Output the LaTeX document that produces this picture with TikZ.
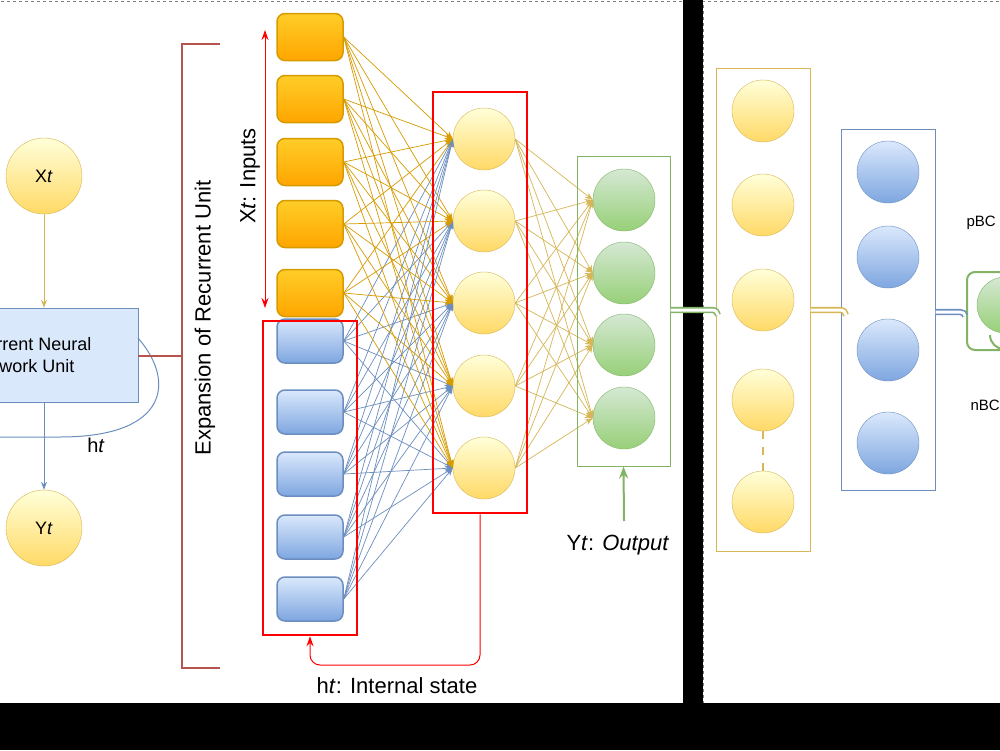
\documentclass[tikz,border=0pt]{standalone}
\usepackage{fontspec}
\setmainfont{Liberation Sans}
\usetikzlibrary{arrows.meta}
\definecolor{yd}{HTML}{D6B656}
\definecolor{od}{HTML}{D79B00}
\definecolor{bd}{HTML}{6C8EBF}
\definecolor{gd}{HTML}{82B366}
\definecolor{rb}{HTML}{B85450}
\begin{document}
\begin{tikzpicture}[x=1pt,y=-1pt,
 ycirc/.style={circle,minimum size=62pt,draw=yd,top color=yellow!15!white,bottom color={rgb,255:red,255;green,217;blue,102}},
 bcirc/.style={circle,minimum size=62pt,draw=bd,top color={rgb,255:red,218;green,232;blue,252},bottom color={rgb,255:red,126;green,166;blue,224}},
 gcirc/.style={circle,minimum size=62pt,draw=gd,top color={rgb,255:red,213;green,232;blue,212},bottom color={rgb,255:red,151;green,208;blue,119}},
 orect/.style={rounded corners=8pt,minimum width=66pt,minimum height=47pt,draw=od,line width=1.5pt,top color={rgb,255:red,255;green,205;blue,40},bottom color={rgb,255:red,255;green,165;blue,0}},
 brect/.style={rounded corners=8pt,minimum width=66pt,minimum height=44pt,draw=bd,line width=1.5pt,top color={rgb,255:red,218;green,232;blue,252},bottom color={rgb,255:red,126;green,166;blue,224}},
 conn/.style={-{Stealth[length=8pt,width=6pt]},line width=0.7pt},
 redbox/.style={draw=red,line width=2.5pt},
 dbl/.style={double=white,double distance=3pt,line width=1.6pt}]
\useasboundingbox (0,0) rectangle (1000,750);
\fill[black] (0,0) rectangle (1000,750);
\fill[white] (0,0) rectangle (683,703);
\fill[white] (703,0) rectangle (1000,703);
\draw[gray,dashed] (-5,1) -- (683,1) -- (683,703) -- (-5,703);
\draw[gray,dashed] (1005,1) -- (703,1) -- (703,703) -- (1005,703);
\begin{scope}
\clip (0,0) rectangle (683,703);
% left part
\node[ycirc,minimum size=76pt,font=\fontsize{18}{22}\selectfont] (xt) at (44,176) {X\textit{t}};
\node[draw=bd,fill={rgb,255:red,218;green,232;blue,252},minimum width=230pt,minimum height=94pt,align=center,font=\fontsize{18}{22}\selectfont] (rnn) at (23,355) {Recurrent Neural\\Network Unit};
\node[ycirc,minimum size=76pt,font=\fontsize{18}{22}\selectfont] (yt) at (44,528) {Y\textit{t}};
\draw[yd,conn,line width=1pt] (xt) -- (rnn.north -| xt);
\draw[bd,conn,line width=1pt] (rnn.south -| xt) -- (yt);
\coordinate (lp) at (-10,437);
\draw[bd,line width=1pt] (138,338) .. controls (175,380) and (170,437) .. (60,437) -- (lp);
\node[font=\fontsize{20}{24}\selectfont] (htl) at (96,445) {h\textit{t}};
% bracket
\coordinate (b0) at (182,44);\coordinate (b1) at (182,668);
\draw[rb,line width=2pt] (220,44) -- (b0) -- (b1) -- (220,668);
\draw[rb,line width=2pt] (rnn.east |- 0,356) -- (182,356);
\node[rotate=90,font=\fontsize{22}{26}\selectfont] (exp) at (205,318) {Expansion of Recurrent Unit};
\node[rotate=90,font=\fontsize{22}{26}\selectfont] (inp) at (250,176) {X\textit{t}: Inputs};
\coordinate (ia) at (265,30);\coordinate (ib) at (265,308);
\draw[red,line width=1pt,{Stealth[length=10pt,width=7pt]}-{Stealth[length=10pt,width=7pt]}] (ia) -- (ib);
% layers
\foreach \i/\y in {1/37,2/99,3/162,4/224,5/293} \node[orect] (o\i) at (310,\y) {};
\foreach \i/\y in {1/341,2/412,3/474,4/537,5/599} \node[brect] (b\i) at (310,\y) {};
\foreach \i/\y in {1/139,2/221,3/303,4/386,5/468} \node[ycirc] (h\i) at (484,\y) {};
\foreach \i/\y in {1/200,2/273,3/345,4/418} \node[gcirc] (g\i) at (624,\y) {};
\foreach \a in {1,...,5}{\foreach \b in {1,...,5}{
 \draw[conn,od] (o\a.east) -- (h\b.west);
 \draw[conn,bd] (b\a.east) -- (h\b.west);}}
\foreach \a in {1,...,5}{\foreach \b in {1,...,4}{
 \draw[conn,yd] (h\a.east) -- (g\b.west);}}
\node[redbox,minimum width=94pt,minimum height=314pt] (rb1) at (310,478) {};
\node[redbox,minimum width=94pt,minimum height=421pt] (rb2) at (480,302.5) {};
\node[draw=gd,line width=1pt,minimum width=93pt,minimum height=310pt] (gbox) at (623.5,311) {};
\draw[red,line width=1pt,rounded corners=10pt,-{Stealth[length=10pt,width=7pt]}] (rb2.south) -- (480,665) -- (310,665) -- (rb1.south);
\node[font=\fontsize{22}{26}\selectfont] (hint) at (397,686) {h\textit{t}: Internal state};
\coordinate (ga) at (624,521);
\draw[gd,line width=2pt,-{Stealth[length=12pt,width=9pt]}] (ga) -- (gbox.south);
\node[font=\fontsize{22}{26}\selectfont,anchor=west] (outl) at (563,545) {Y\textit{t}: \textit{Output}};
\end{scope}
\begin{scope}
\clip (703,0) rectangle (1000,703);
\node[draw=yd,line width=1pt,minimum width=94pt,minimum height=483pt] (ybox) at (763,309.5) {};
\foreach \i/\y in {1/111,2/205,3/300,4/400,5/502} \node[ycirc] (r\i) at (763,\y) {};
\draw[yd,line width=2.5pt,dash pattern=on 8pt off 8pt] (r4.south) -- (r5.north);
\node[draw=bd,line width=1pt,minimum width=94pt,minimum height=361pt] (bbox) at (888,309.5) {};
\foreach \i/\y in {1/172,2/257,3/350,4/443} \node[bcirc] (s\i) at (888,\y) {};
\node[draw=gd,line width=2pt,rounded corners=8pt,minimum width=70pt,minimum height=78pt] (gb) at (1002,311) {};
\node[gcirc,minimum size=56pt] (ge) at (1005,305) {};
\draw[gd,line width=2pt] (990,335) arc (180:90:14);
\node[font=\fontsize{15}{18}\selectfont,anchor=west] (pbc) at (963,223) {pBC};
\node[font=\fontsize{15}{18}\selectfont,anchor=west] (nbc) at (967,405) {nBC};
\draw[yd,dbl] (ybox.east |- 0,310) -- (840,310) arc (-90:0:6 and 5);
\draw[bd,dbl] (bbox.east |- 0,312) -- (960,312) arc (-90:0:5 and 4);
\end{scope}
\fill[black] (683,0) rectangle (703,750);
\draw[gd,dbl] (gbox.east |- 0,310) -- (712,310) arc (-90:0:6 and 5);
\fill[black] (0,703) rectangle (1000,750);
\end{tikzpicture}
\end{document}
